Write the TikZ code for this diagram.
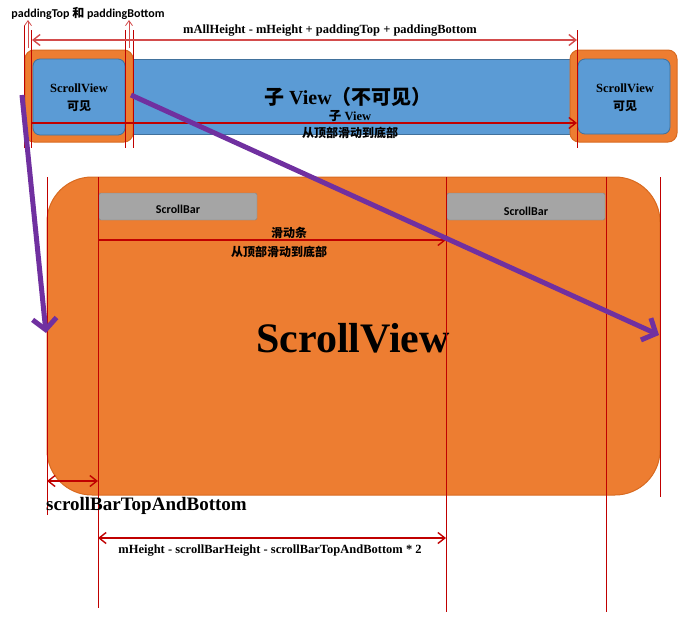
\documentclass[tikz,border=0pt]{standalone}
\usepackage{fontspec}
\setmainfont{Liberation Serif}
\newfontfamily\cjk{Noto Sans CJK SC}
\newfontfamily\calib{Carlito}
\usetikzlibrary{arrows.meta}
\definecolor{org}{HTML}{ED7D31}
\definecolor{orgd}{HTML}{D86A20}
\definecolor{blu}{HTML}{5B9BD5}
\definecolor{blud}{HTML}{41719C}
\definecolor{rd}{HTML}{C00000}
\definecolor{pur}{HTML}{7030A0}
\definecolor{gry}{HTML}{A5A5A5}
\begin{document}
\begin{tikzpicture}[x=1pt,y=-1pt,
  obox/.style={fill=org,draw=orgd,line width=1pt,rounded corners=9pt},
  bbox/.style={fill=blu,draw=blud,line width=0.8pt,rounded corners=7pt},
  rl/.style={draw=rd,line width=1pt},
  ra/.style={draw=rd,line width=1.4pt,-{Straight Barb[length=7pt,width=11pt]}},
  rda/.style={draw=rd,line width=1.4pt,{Straight Barb[length=7pt,width=11pt]}-{Straight Barb[length=7pt,width=11pt]}},
  pa/.style={draw=pur,line width=5pt,-{Straight Barb[length=11pt,width=24pt]}},
  sb/.style={fill=gry,draw=gry!80!black,rounded corners=2pt},
  lbl/.style={font=\bfseries\fontsize{12.5}{13}\selectfont,inner sep=0pt},
  cj/.style={font=\cjk\bfseries\fontsize{12}{13}\selectfont,inner sep=0pt}]
\useasboundingbox (0,0) rectangle (692,632);
% top strip
\draw[fill=blu,draw=blud] (128,59) rectangle (578,134);
\draw[obox] (25,50) rectangle (133,142);
\draw[bbox] (33,59) rectangle (125,135);
\draw[obox] (570,50) rectangle (677,142);
\draw[bbox] (578,59) rectangle (670,134);
\node[lbl] (s1) at (79,88) {ScrollView};
\node[cj] (k1) at (79,106) {可见};
\node[lbl] (s2) at (625,88) {ScrollView};
\node[cj] (k2) at (625,106) {可见};
\node[inner sep=0pt,font=\bfseries\fontsize{20}{22}\selectfont] (cv) at (348,97) {{\cjk 子} View{\cjk（不可见）}};
\node[lbl] (cv2) at (350,116) {{\cjk 子} View};
\node[cj] (cv3) at (350,133) {从顶部滑动到底部};
% top verticals
\draw[rl] (24,25)--(24,148);
\draw[rl] (31,30)--(31,148);
\draw[rl] (125,30)--(125,148);
\draw[rl] (133,30)--(133,148);
\draw[rl] (577,30)--(577,148);
\draw[draw=rd!70,line width=0.8pt,-{Straight Barb[length=5pt,width=7pt]}] (28,48)--(28,20);
\draw[draw=rd!70,line width=0.8pt,-{Straight Barb[length=5pt,width=7pt]}] (129,48)--(129,20);
\node[font=\calib\bfseries\fontsize{12}{13}\selectfont,inner sep=0pt] (pt) at (88,13) {paddingTop {\cjk 和} paddingBottom};
\coordinate (ta) at (32,40); \coordinate (tb) at (577,40);
\draw[rda,draw=rd!70] (ta)--(tb);
\node[lbl] (mall) at (330,31) {mAllHeight - mHeight + paddingTop + paddingBottom};
\coordinate (ca) at (31,123); \coordinate (cb) at (577,123);
\draw[ra] (ca)--(cb);
% big scrollview
\draw[fill=org,draw=orgd,line width=1pt,rounded corners=45pt] (47,177) rectangle (660,495);
\draw[sb] (99,193) rectangle (257,220);
\draw[sb] (447,193) rectangle (605,220);
\node[font=\calib\bfseries\fontsize{12}{13}\selectfont,inner sep=0pt] (b1) at (178,209) {ScrollBar};
\node[font=\calib\bfseries\fontsize{12}{13}\selectfont,inner sep=0pt] (b2) at (526,211) {ScrollBar};
\node[font=\bfseries\fontsize{42}{44}\selectfont,inner sep=0pt] (big) at (353,338) {ScrollView};
\draw[rl] (47,177)--(47,515);
\draw[rl] (98,177)--(98,608);
\draw[rl] (446,177)--(446,612);
\draw[rl] (606,177)--(606,612);
\draw[rl] (660,177)--(660,497);
\coordinate (sa) at (98,240); \coordinate (sbb) at (446,240);
\draw[ra] (sa)--(sbb);
\node[cj] (hd) at (289,233) {滑动条};
\node[cj] (hd2) at (279,252) {从顶部滑动到底部};
\coordinate (pa1) at (47,481); \coordinate (pb1) at (98,481);
\draw[rda] (pa1)--(pb1);
\node[font=\bfseries\fontsize{19}{20}\selectfont,inner sep=0pt,anchor=west] (stb) at (46,506) {scrollBarTopAndBottom};
\coordinate (ma) at (98,538); \coordinate (mb) at (446,538);
\draw[rda] (ma)--(mb);
\node[lbl] (mh) at (270,551) {mHeight - scrollBarHeight - scrollBarTopAndBottom * 2};
% purple arrows
\coordinate (p1s) at (22,95); \coordinate (p1e) at (46,333);
\coordinate (p2s) at (131,95); \coordinate (p2e) at (659,335);
\draw[pa] (p1s)--(p1e);
\draw[pa] (p2s)--(p2e);
\end{tikzpicture}
\end{document}
